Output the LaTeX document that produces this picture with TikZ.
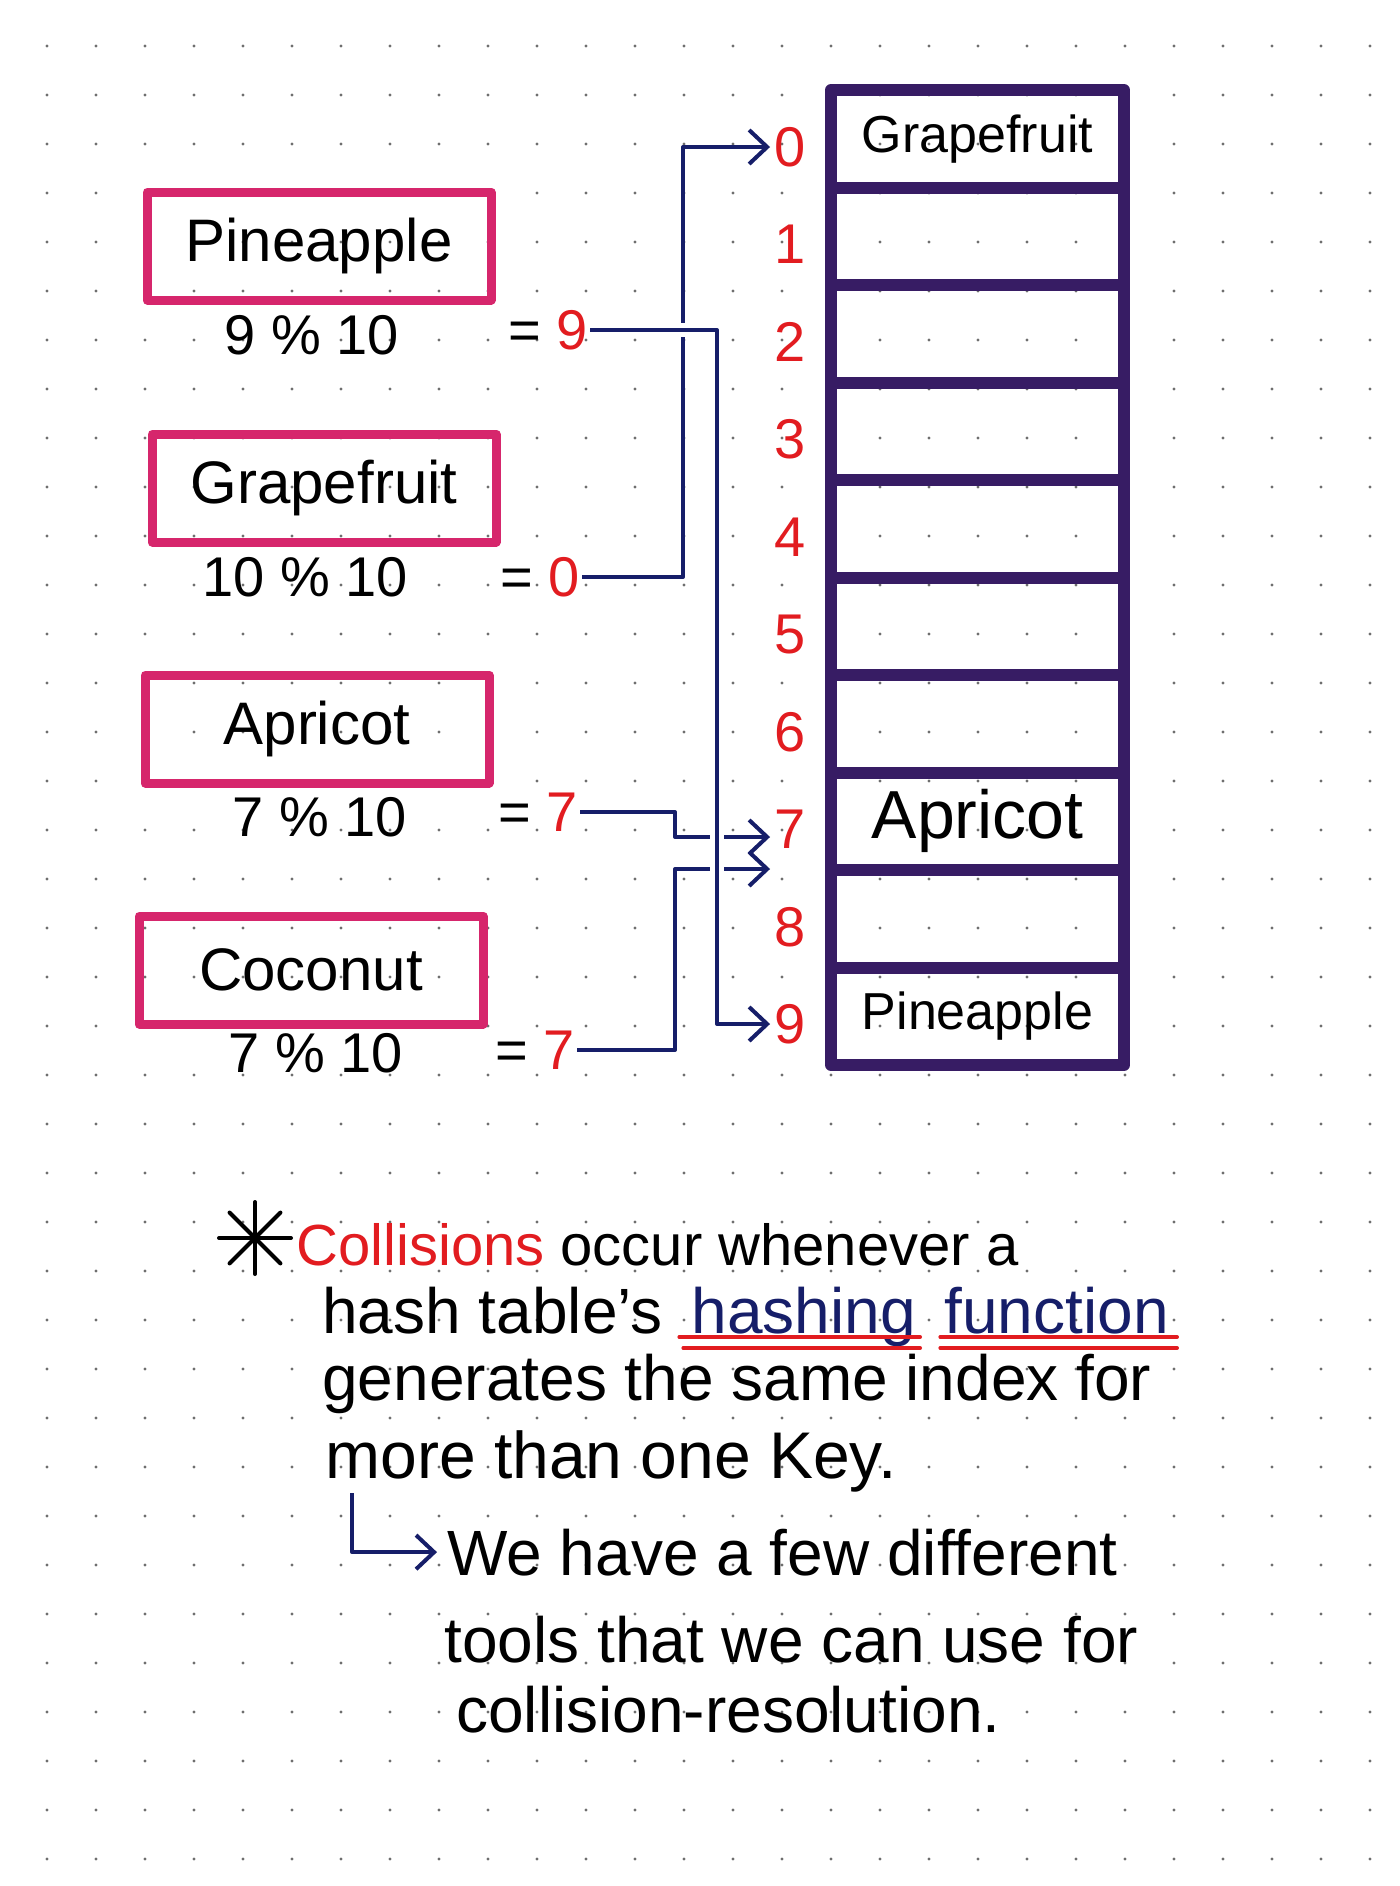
\documentclass[tikz,border=0pt]{standalone}
\usepackage{fontspec}
\setmainfont{Liberation Sans}
\usetikzlibrary{positioning,arrows.meta}
\definecolor{keypink}{RGB}{214,38,108}
\definecolor{slotpurple}{RGB}{55,28,100}
\definecolor{linknavy}{RGB}{22,30,105}
\definecolor{idxred}{RGB}{226,28,32}
\definecolor{paperdot}{RGB}{110,110,110}
\begin{document}
\begin{tikzpicture}[x=0.5pt,y=-0.5pt,>={Straight Barb[length=9pt,width=17pt]},line join=round,
  keybox/.style={draw=keypink,line width=4.5pt,minimum width=172pt,minimum height=54pt,font=\fontsize{30}{36}\selectfont},
  modexpr/.style={font=\fontsize{28}{34}\selectfont,inner sep=1pt},
  slot/.style={draw=slotpurple,line width=6pt,minimum width=146.5pt,minimum height=48.75pt,inner sep=0pt,font=\fontsize{26}{32}\selectfont},
  idx/.style={text=idxred,font=\fontsize{28}{34}\selectfont,inner sep=2pt},
  link/.style={draw=linknavy,line width=2pt,->},
  note/.style={font=\fontsize{32}{38}\selectfont,inner sep=0pt},
  uline/.style={draw=idxred,line width=1.8pt,line cap=round},
]
\useasboundingbox (0,0) rectangle (1400,1886);
\fill [white] (0,0) rectangle (1400,1886);
%% dotted paper
\foreach \i in {0,...,27}
  \foreach \j in {0,...,37}
    \fill [paperdot] (47+49*\i,46+49*\j) circle (0.8pt);
%% keys
\node (kPine) [keybox] at (319,246) {Pineapple};
\node (kGrape) [keybox] at (324,488) {Grapefruit};
\node (kApri) [keybox] at (317,729) {Apricot};
\node (kCoco) [keybox] at (311,970) {Coconut};
%% hashing
\node (mPine) [modexpr] at (312,335) {9 \% 10};
\node (mGrape) [modexpr] at (305,577) {10 \% 10};
\node (mApri) [modexpr] at (320,817) {7 \% 10};
\node (mCoco) [modexpr] at (316,1053) {7 \% 10};
\node (ePine) [modexpr] at (548,330) {= \textcolor{idxred}{9}};
\node (eGrape) [modexpr] at (540,577) {= \textcolor{idxred}{0}};
\node (eApri) [modexpr] at (538,812) {= \textcolor{idxred}{7}};
\node (eCoco) [modexpr] at (535,1050) {= \textcolor{idxred}{7}};
%% table
\node (s0) [slot] at (977.5,138.75) {Grapefruit};
\node (s1) [slot] at (977.5,236.25) {};
\node (s2) [slot] at (977.5,333.75) {};
\node (s3) [slot] at (977.5,431.25) {};
\node (s4) [slot] at (977.5,528.75) {};
\node (s5) [slot] at (977.5,626.25) {};
\node (s6) [slot] at (977.5,723.75) {};
\node (s7) [slot,font=\fontsize{34}{40}\selectfont] at (977.5,821.25) {Apricot};
\node (s8) [slot] at (977.5,918.75) {};
\node (s9) [slot] at (977.5,1016.25) {Pineapple};
\node (i0) [idx] at (790,147) {0};
\node (i1) [idx] at (790,244) {1};
\node (i2) [idx] at (790,342) {2};
\node (i3) [idx] at (790,439) {3};
\node (i4) [idx] at (790,537) {4};
\node (i5) [idx] at (790,634) {5};
\node (i6) [idx] at (790,732) {6};
\node (i7) [idx] at (790,829) {7};
\node (i8) [idx] at (790,927) {8};
\node (i9) [idx] at (790,1024) {9};
%% links
\coordinate (bus0) at (683,400);
\coordinate (bus7a) at (675,820);
\coordinate (bus7b) at (675,950);
\coordinate (bus9) at (717,700);
\draw [link] (eGrape) -| (bus0) |- (i0);
\draw [link] (eApri) -| (bus7a) |- ([yshift=-4pt]i7.west);
\draw [link] (eCoco) -| (bus7b) |- ([yshift=-20pt]i7.west);
\draw [link,preaction={draw=white,line width=7pt,-}] (ePine) -| (bus9) |- (i9);
%% note
\coordinate (star) at (255,1238);
\foreach \a in {0,45,90,135}
  \draw [line width=2pt,line cap=round] (star) ++(\a:36) -- ++(\a+180:72);
\node (l1) [note,anchor=base west,font=\fontsize{29}{35}\selectfont] at (296,1265) {\textcolor{idxred}{Collisions} occur whenever a};
\node (l2) [note,anchor=base west] at (322,1333) {hash table's};
\node (hashing) [note,base right=14pt of l2,text=linknavy] {hashing};
\node (function) [note,base right=14pt of hashing,text=linknavy] {function};
\node (l3) [note,anchor=base west] at (322,1400) {generates the same index for};
\node (l4) [note,anchor=base west,font=\fontsize{33}{39}\selectfont] at (325,1478) {more than one Key.};
\node (l5) [note,anchor=base west] at (447,1575) {We have a few different};
\node (l6) [note,anchor=base west] at (444,1662) {tools that we can use for};
\node (l7) [note,anchor=base west] at (456,1732) {collision-resolution.};
\draw [uline] ([xshift=-6pt,yshift=-2pt]hashing.base west) -- ([xshift=2pt,yshift=-2pt]hashing.base east);
\draw [uline] ([xshift=-4pt,yshift=-7.5pt]hashing.base west) -- ([xshift=2pt,yshift=-7.5pt]hashing.base east);
\draw [uline] ([xshift=-2pt,yshift=-2pt]function.base west) -- ([xshift=4pt,yshift=-2pt]function.base east);
\draw [uline] ([xshift=-2pt,yshift=-7.5pt]function.base west) -- ([xshift=4pt,yshift=-7.5pt]function.base east);
\coordinate (hook) at (352,1493);
\draw [link] (hook) |- ([xshift=-5pt]l5.west);
%
\end{tikzpicture}
\end{document}
